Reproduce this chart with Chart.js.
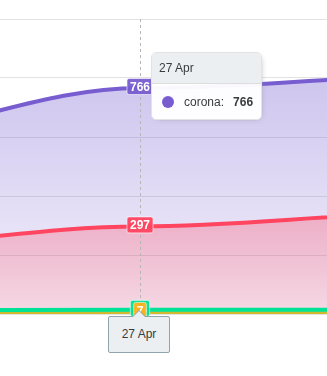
<!DOCTYPE html>
<html>
<head>
<meta charset="utf-8">
<script src="https://cdn.jsdelivr.net/npm/chart.js@4.4.1/dist/chart.umd.min.js"></script>
<style>
  html, body { margin: 0; padding: 0; background: #fff; }
  #wrap { position: relative; width: 327px; height: 376px; overflow: hidden; font-family: "Liberation Sans", Arial, Helvetica, sans-serif; }
  canvas { display: block; }
  .tt { position: absolute; background: rgba(255,255,255,0.96); border: 1px solid #e3e3e3; border-radius: 5px;
        box-shadow: 2px 2px 6px -4px #999; font-size: 12px; color: #373d3f; overflow: hidden; box-sizing: border-box; width: 111px; }
  .tt-head { background: #ECEFF1; border-bottom: 1px solid #ddd; height: 31px; line-height: 31px; padding: 0 7px; box-sizing: border-box; }
  .tt-body { height: 35px; display: flex; align-items: center; padding-left: 10px; }
  .tt-dot { width: 12px; height: 12px; border-radius: 50%; margin-right: 10px; flex: none; }
  .tt-val { font-weight: bold; margin-left: 9px; }
  .xt { position: absolute; width: 62px; height: 37px; box-sizing: border-box; background: #ECEFF1; border: 1px solid #90A4AE;
        border-radius: 2px; font-size: 12px; color: #373d3f; text-align: center; line-height: 35px; }
  .xt:before, .xt:after { content: ""; position: absolute; left: 50%; bottom: 100%; width: 0; height: 0; border: solid transparent; }
  .xt:before { border-bottom-color: #90A4AE; border-width: 7px; margin-left: -7px; }
  .xt:after { border-bottom-color: #ECEFF1; border-width: 6px; margin-left: -6px; }
</style>
</head>
<body>
<div id="wrap">
  <canvas id="c" width="327" height="376"></canvas>
  <div class="tt" id="tt"><div class="tt-head" id="ttHead"></div><div class="tt-body"><span class="tt-dot" id="ttDot"></span><span id="ttName"></span><span class="tt-val" id="ttVal"></span></div></div>
  <div class="xt" id="xt"></div>
</div>
<script>
// ---- data ----
const categories   = ['26 Apr', '27 Apr', '28 Apr'];
const corona       = [597, 766, 806];
const seriesRed    = [226, 297, 342];
const seriesGreen  = [13, 14, 15];
const seriesOrange = [6, 7, 7];
const yTickValues  = [0, 200, 400, 600, 800, 1000];
const focusCategory = '27 Apr';

const COLORS = { purple: '#775DD0', red: '#FF4560', green: '#00E396', orange: '#FEB019' };
const focusIndex = categories.indexOf(focusCategory);

function toPoints(arr) { return arr.map((v, i) => ({ x: i, y: v })); }
function hexA(hex, a) {
  const n = parseInt(hex.slice(1), 16);
  return `rgba(${(n >> 16) & 255},${(n >> 8) & 255},${n & 255},${a})`;
}
function gradFill(color, values, aTop, aBottom) {
  return (ctx) => {
    const chart = ctx.chart;
    const area = chart.chartArea;
    if (!area) return hexA(color, aTop);
    const top = chart.scales.y.getPixelForValue(Math.max(...values));
    const g = chart.ctx.createLinearGradient(0, top, 0, area.bottom);
    g.addColorStop(0, hexA(color, aTop));
    g.addColorStop(1, hexA(color, aBottom));
    return g;
  };
}

// ApexCharts-like "smooth" curve: horizontal tangents at each point
const smoothPlugin = {
  id: 'apexSmooth',
  afterDatasetsUpdate(chart) {
    chart.getSortedVisibleDatasetMetas().forEach(meta => {
      const pts = meta.data;
      for (let i = 0; i < pts.length; i++) {
        const p = pts[i], prev = pts[i - 1], next = pts[i + 1];
        p.cp1x = prev ? p.x - 0.35 * (p.x - prev.x) : p.x;
        p.cp1y = p.y;
        p.cp2x = next ? p.x + 0.35 * (next.x - p.x) : p.x;
        p.cp2y = p.y;
      }
      if (meta.dataset) meta.dataset._pointsUpdated = true;
    });
  }
};

// crosshair + data labels
const overlayPlugin = {
  id: 'overlay',
  afterDatasetsDraw(chart) {
    const { ctx, chartArea, scales } = chart;
    const cx = Math.round(scales.x.getPixelForValue(focusIndex)) + 0.5;
    ctx.save();
    ctx.strokeStyle = '#b6b6b6';
    ctx.lineWidth = 1;
    ctx.setLineDash([3, 3]);
    ctx.beginPath();
    ctx.moveTo(cx, chartArea.top);
    ctx.lineTo(cx, chartArea.bottom);
    ctx.stroke();
    ctx.restore();

    // labels: purple, red, green, orange (orange on top)
    const order = [3, 2, 0, 1];
    ctx.save();
    ctx.font = 'bold 12px "Liberation Sans", Arial, sans-serif';
    ctx.textAlign = 'center';
    ctx.textBaseline = 'middle';
    order.forEach(di => {
      const ds = chart.data.datasets[di];
      const meta = chart.getDatasetMeta(di);
      meta.data.forEach((pt, i) => {
        const txt = String(ds.data[i].y);
        const w = ctx.measureText(txt).width + 6;
        const h = 16;
        const x = pt.x - w / 2, y = pt.y - 1.5 - h / 2;
        ctx.globalAlpha = 0.95;
        ctx.fillStyle = ds.borderColor;
        ctx.beginPath();
        ctx.roundRect(x, y, w, h, 2);
        ctx.fill();
        ctx.globalAlpha = 1;
        ctx.strokeStyle = 'rgba(255,255,255,0.6)';
        ctx.lineWidth = 1;
        ctx.stroke();
        ctx.fillStyle = '#fff';
        ctx.fillText(txt, pt.x, pt.y - 0.5);
      });
    });
    ctx.restore();
  },
  afterRender(chart) {
    const { scales } = chart;
    const px = scales.x.getPixelForValue(focusIndex);
    const py = scales.y.getPixelForValue(corona[focusIndex]);
    const tt = document.getElementById('tt');
    document.getElementById('ttHead').textContent = categories[focusIndex];
    document.getElementById('ttDot').style.background = COLORS.purple;
    document.getElementById('ttName').textContent = 'corona:';
    document.getElementById('ttVal').textContent = corona[focusIndex];
    tt.style.left = Math.round(px + 11) + 'px';
    tt.style.top = Math.round(py - 36) + 'px';
    const xt = document.getElementById('xt');
    xt.textContent = categories[focusIndex];
    xt.style.left = Math.round(px - 32) + 'px';
    xt.style.top = Math.round(chart.chartArea.bottom + 2) + 'px';
  }
};

new Chart(document.getElementById('c'), {
  type: 'line',
  data: {
    datasets: [
      { label: 'series-2', data: toPoints(seriesGreen), borderColor: COLORS.green, backgroundColor: gradFill(COLORS.green, seriesGreen, 0.3, 0.15), fill: 'origin' },
      { label: 'series-3', data: toPoints(seriesOrange), borderColor: COLORS.orange, backgroundColor: gradFill(COLORS.orange, seriesOrange, 0.3, 0.15), fill: 'origin' },
      { label: 'series-4', data: toPoints(seriesRed), borderColor: COLORS.red, backgroundColor: gradFill(COLORS.red, seriesRed, 0.32, 0.14), fill: 'origin' },
      { label: 'corona', data: toPoints(corona), borderColor: COLORS.purple, backgroundColor: gradFill(COLORS.purple, corona, 0.36, 0.08), fill: 'origin' }
    ]
  },
  options: {
    responsive: false,
    animation: false,
    events: [],
    layout: { padding: { top: 19, bottom: 62, left: 0, right: 0 } },
    elements: {
      line: { borderWidth: 4, tension: 0.4, borderCapStyle: 'round', borderJoinStyle: 'round' },
      point: { radius: 0, hoverRadius: 0 }
    },
    plugins: { legend: { display: false }, tooltip: { enabled: false } },
    scales: {
      x: { type: 'linear', min: 0.5333, max: 1.6233, display: false },
      y: {
        min: yTickValues[0], max: yTickValues[yTickValues.length - 1],
        afterBuildTicks: (s) => { s.ticks = yTickValues.map(v => ({ value: v })); },
        ticks: { display: false },
        grid: { color: '#e3e3e3', drawTicks: false, lineWidth: 1 },
        border: { display: false }
      }
    }
  },
  plugins: [smoothPlugin, overlayPlugin]
});
</script>
</body>
</html>
